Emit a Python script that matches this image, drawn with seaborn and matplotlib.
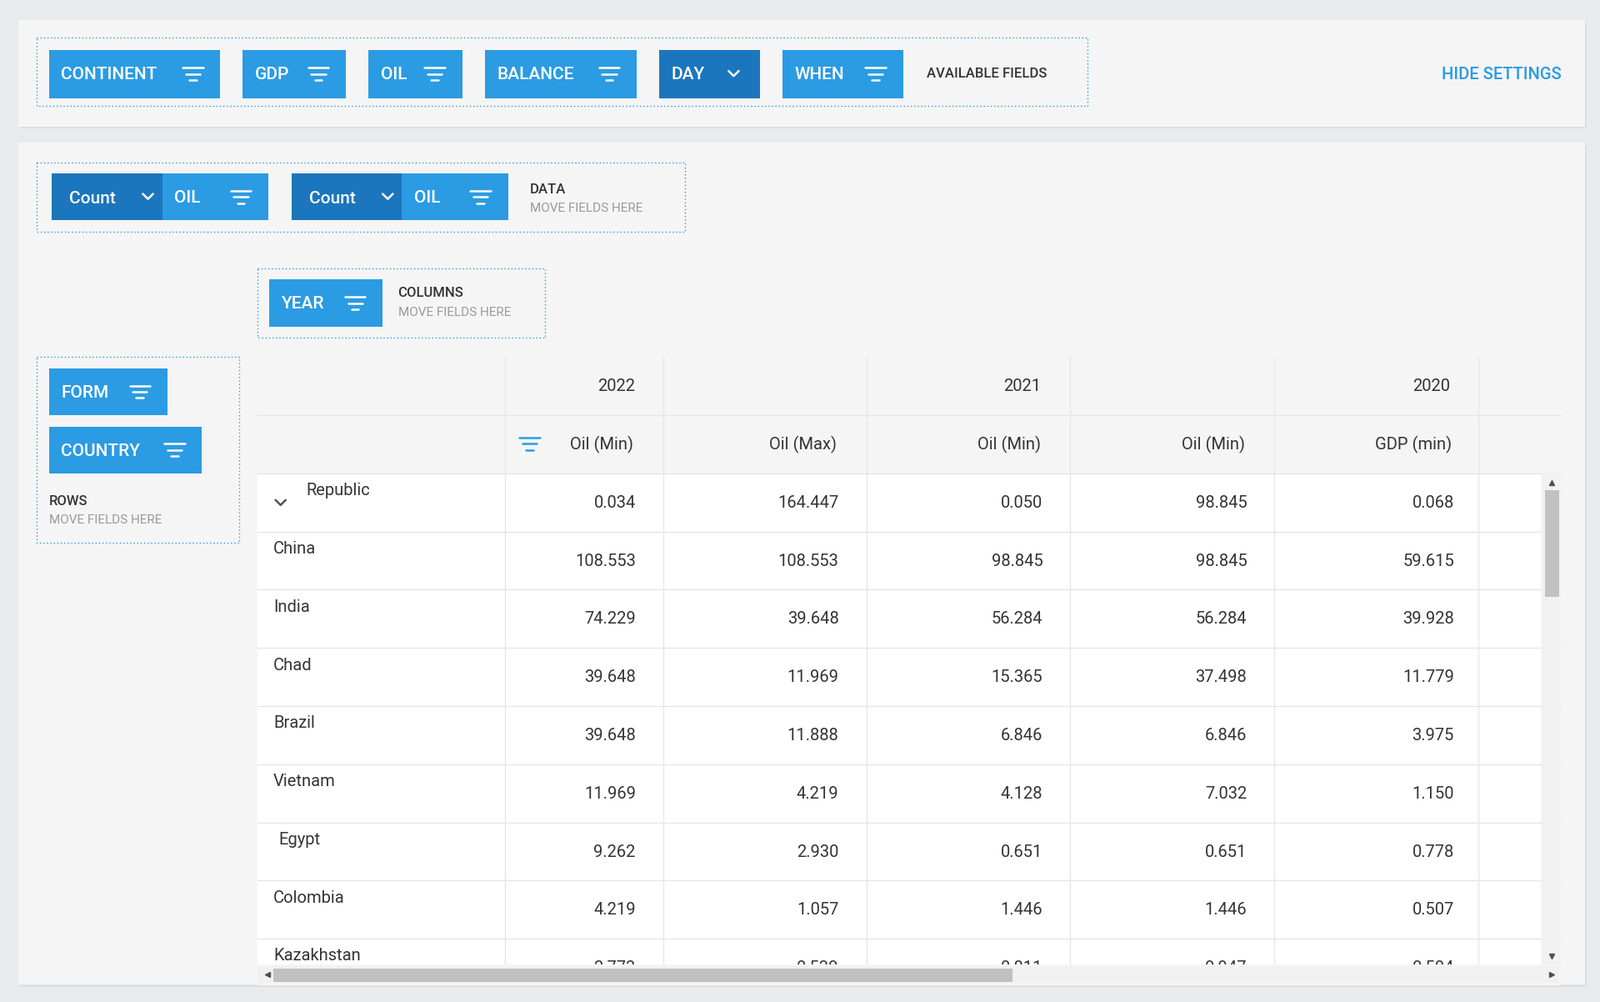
import numpy as np
import seaborn as sns
import matplotlib.pyplot as plt
from matplotlib.patches import Rectangle
from matplotlib.colors import ListedColormap

sns.set_theme(style="white", font="Roboto")

# Data
years = ["2022", "2021", "2020"]
measures = ["Oil (Min)", "Oil (Max)", "Oil (Min)", "Oil (Min)", "GDP (min)"]
countries = ["Republic", "China", "India", "Chad", "Brazil", "Vietnam", "Egypt", "Colombia", "Kazakhstan"]
values = np.array([
    [0.034, 164.447, 0.050, 98.845, 0.068],
    [108.553, 108.553, 98.845, 98.845, 59.615],
    [74.229, 39.648, 56.284, 56.284, 39.928],
    [39.648, 11.969, 15.365, 37.498, 11.779],
    [39.648, 11.888, 6.846, 6.846, 3.975],
    [11.969, 4.219, 4.128, 7.032, 1.150],
    [9.262, 2.930, 0.651, 0.651, 0.778],
    [4.219, 1.057, 1.446, 1.446, 0.507],
    [2.773, 0.530, 0.811, 0.947, 0.504],
])
available_fields = ["CONTINENT", "GDP", "OIL", "BALANCE", "DAY", "WHEN"]

W, H = 1568, 982
LIGHT = "#2b9be3"
DARK = "#1b76bd"
TXT = "#333333"
GREY = "#9a9a9a"

fig = plt.figure(figsize=(19.2, 12.02), dpi=100)
fig.patch.set_facecolor("#e8ebed")


def px_axes(z):
    a = fig.add_axes([0, 0, 1, 1], zorder=z)
    a.set_xlim(0, W)
    a.set_ylim(H, 0)
    a.axis("off")
    a.patch.set_alpha(0)
    return a


bg = px_axes(0)
for a, (x0, y0, x1, y1) in [(bg, (18, 20, 1553, 124)), (bg, (18, 140, 1553, 965))]:
    a.add_patch(Rectangle((x0 + 2, y0 + 2), x1 - x0, y1 - y0, fc="#dcdfe1", ec="none"))
    a.add_patch(Rectangle((x0, y0), x1 - x0, y1 - y0, fc="#f5f5f5", ec="none"))

# body background drawn as a seaborn heatmap
body = fig.add_axes([252 / W, 1 - 945 / H, (1510 - 252) / W, (945 - 464) / H], zorder=1)
sns.heatmap(np.zeros_like(values), cmap=ListedColormap(["white"]), cbar=False,
            xticklabels=False, yticklabels=False, ax=body)

ax = px_axes(2)
fs = 14.5
bfs = 15


def rect(x0, y0, x1, y1, fc, ec="none", ls="-", z=1, lw=1):
    ax.add_patch(Rectangle((x0, y0), x1 - x0, y1 - y0, fc=fc, ec=ec, ls=ls, lw=lw, zorder=z))


def filt(xc, yc, color="white"):
    for i, w in enumerate([10, 7, 3.5]):
        ax.plot([xc - w, xc + w], [yc - 6 + 6 * i] * 2, color=color, lw=1.8, zorder=5)


def chev(xc, yc, color="white"):
    ax.plot([xc - 5, xc, xc + 5], [yc - 3, yc + 2, yc - 3], color=color, lw=1.8, zorder=5)


def button(x0, x1, y0, y1, label, color=LIGHT, icon="filter"):
    rect(x0, y0, x1, y1, color, z=3)
    ax.text(x0 + 12, (y0 + y1) / 2 + 1, label, color="white", fontsize=bfs, va="center",
            weight="medium", zorder=5)
    if icon == "filter":
        filt(x1 - 27, (y0 + y1) / 2)
    elif icon == "chev":
        chev(x1 - 26, (y0 + y1) / 2)


# available fields
rect(36, 37, 1066, 104, "none", ec=LIGHT, ls=(0, (1, 2)), z=2)
bx = [(48, 216), (238, 339), (361, 453), (475, 624), (646, 745), (767, 885)]
for (x0, x1), f in zip(bx, available_fields):
    button(x0, x1, 49, 96, f, DARK if f == "DAY" else LIGHT, "chev" if f == "DAY" else "filter")
ax.text(908, 72, "AVAILABLE FIELDS", fontsize=12, color=TXT, va="center", weight="medium")
ax.text(1530, 73, "HIDE SETTINGS", fontsize=14.5, color=LIGHT, va="center", ha="right", weight="medium")

# data box
rect(36, 159, 671, 227, "none", ec=LIGHT, ls=(0, (1, 2)), z=2)
for x0 in (51, 286):
    rect(x0, 170, x0 + 108, 216, DARK, z=3)
    ax.text(x0 + 17, 195, "Count", color="white", fontsize=bfs, va="center", weight="medium", zorder=5)
    chev(x0 + 94, 193)
    button(x0 + 108, x0 + 212, 170, 216, "OIL")
ax.text(519, 186, "DATA", fontsize=12, color=TXT, va="center", weight="medium")
ax.text(519, 204, "MOVE FIELDS HERE", fontsize=11, color=GREY, va="center")

# columns box
rect(252, 263, 534, 331, "none", ec=LIGHT, ls=(0, (1, 2)), z=2)
button(264, 375, 274, 320, "YEAR")
ax.text(390, 287, "COLUMNS", fontsize=12, color=TXT, va="center", weight="medium")
ax.text(390, 306, "MOVE FIELDS HERE", fontsize=11, color=GREY, va="center")

# rows box
rect(36, 350, 234, 532, "none", ec=LIGHT, ls=(0, (1, 2)), z=2)
button(48, 164, 361, 407, "FORM")
button(48, 198, 418, 464, "COUNTRY")
ax.text(48, 491, "ROWS", fontsize=12, color=TXT, va="center", weight="medium")
ax.text(48, 510, "MOVE FIELDS HERE", fontsize=11, color=GREY, va="center")

# table header + grid
colx = [252, 495, 650, 849, 1049, 1249, 1449, 1510]
right = [623, 822, 1022, 1222, 1425]
for y in [407, 464] + [464 + 57 * i for i in range(1, 9)]:
    ax.plot([252, 1530], [y, y], color="#e6e6e6", lw=1, zorder=3)
for x in colx[1:-1]:
    ax.plot([x, x], [350, 945], color="#e6e6e6", lw=1, zorder=3)
for yr, x in zip(years, [622, 1020, 1421]):
    ax.text(x, 379, yr, fontsize=fs, color=TXT, ha="right", va="center")
for m, x in zip(measures, right):
    ax.text(x - 2, 436, m, fontsize=fs, color=TXT, ha="right", va="center")
filt(519, 435, color=LIGHT)

for i, c in enumerate(countries):
    top = 464 + 57 * i
    lx = 300 if i == 0 else (273 if c == "Egypt" else 268)
    ax.text(lx, top + 17, c, fontsize=fs, color=TXT, va="center", zorder=4)
    for j in range(5):
        ax.text(right[j], top + 29, f"{values[i, j]:.3f}", fontsize=fs, color=TXT,
                ha="right", va="center", zorder=4)
chev(275, 493, color="#555555")

# scrollbars (also clip the last row)
rect(252, 945, 1530, 966, "#f5f5f5", z=6)
rect(252, 947, 1528, 963, "#f1f1f1", z=6)
rect(268, 949, 992, 962, "#c1c1c1", z=7)
rect(1511, 464, 1530, 945, "#f1f1f1", z=6)
rect(1514, 480, 1528, 585, "#c1c1c1", z=7)
for x, y, mk in [(1521, 473, "^"), (1521, 937, "v"), (262, 955, "<"), (1521, 955, ">")]:
    ax.plot(x, y, marker=mk, color="#505050", ms=4, zorder=8)

fig.savefig("out.png", dpi=100, facecolor=fig.get_facecolor())
